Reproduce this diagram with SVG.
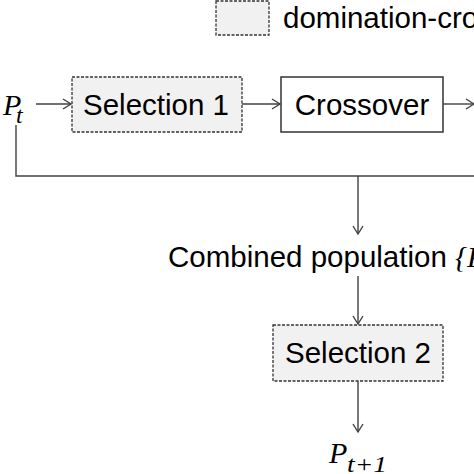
<svg xmlns="http://www.w3.org/2000/svg" width="474" height="474" viewBox="0 0 474 474">
<defs>
<style>
.lbl{font-family:"Liberation Sans",Arial,sans-serif;font-size:29.5px;fill:#000;}
.math{font-family:"Liberation Serif","Times New Roman",serif;font-style:italic;fill:#000;}
.dash{fill:#f1f1f1;stroke:#333;stroke-width:1.3;stroke-dasharray:3 1.5;}
.solid{fill:#fff;stroke:#333;stroke-width:1.5;}
.conn{fill:none;stroke:#404040;stroke-width:1.4;}
</style>
<marker id="arr" markerUnits="userSpaceOnUse" markerWidth="12" markerHeight="12" refX="9" refY="6" orient="auto">
<path d="M1,1 L9,6 L1,11" fill="none" stroke="#404040" stroke-width="1.4"/>
</marker>
</defs>
<rect width="474" height="474" fill="#fff"/>
<g id="legend">
<rect class="dash" x="216" y="1" width="53" height="34"/>
<text class="lbl" x="283" y="28">domination-cro</text>
</g>
<g id="Pt">
<text class="math" x="3" y="115" font-size="30">P</text>
<text class="math" x="16" y="123" font-size="24">t</text>
</g>
<g id="selection1">
<rect class="dash" x="72" y="77" width="170" height="55"/>
<text class="lbl" x="156" y="115" text-anchor="middle">Selection 1</text>
</g>
<g id="crossover">
<rect class="solid" x="281" y="77" width="162" height="55"/>
<text class="lbl" x="362" y="115" text-anchor="middle">Crossover</text>
</g>
<g id="combined">
<text class="lbl" x="168" y="267">Combined population</text>
<text class="math" x="455" y="267" font-size="30">{P</text>
</g>
<g id="selection2">
<rect class="dash" x="273" y="325" width="170" height="56"/>
<text class="lbl" x="358" y="363" text-anchor="middle">Selection 2</text>
</g>
<g id="Pt1">
<text class="math" x="329" y="463" font-size="30">P</text>
<text class="math" x="347" y="472" font-size="24" textLength="40" lengthAdjust="spacingAndGlyphs">t+1</text>
</g>
<g id="connectors">
<line class="conn" x1="36" y1="104" x2="71" y2="104" marker-end="url(#arr)"/>
<line class="conn" x1="242" y1="104" x2="280" y2="104" marker-end="url(#arr)"/>
<line class="conn" x1="443" y1="104" x2="474" y2="104" marker-end="url(#arr)"/>
<polyline class="conn" points="16,125 16,176 480,176"/>
<line class="conn" x1="358" y1="176" x2="358" y2="234" marker-end="url(#arr)"/>
<line class="conn" x1="358" y1="276" x2="358" y2="324" marker-end="url(#arr)"/>
<line class="conn" x1="358" y1="381" x2="358" y2="432" marker-end="url(#arr)"/>
</g>
</svg>
